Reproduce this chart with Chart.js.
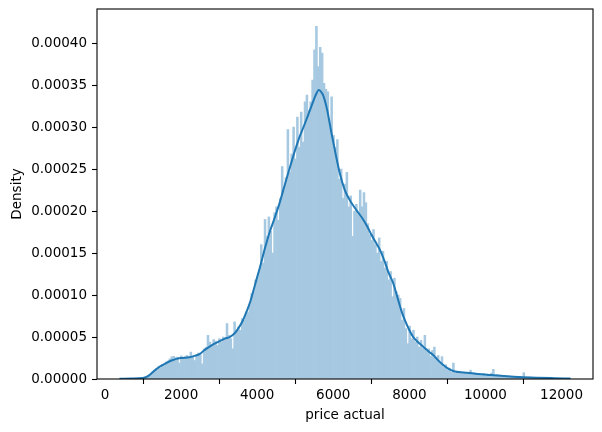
<!DOCTYPE html>
<html>
<head>
<meta charset="utf-8">
<script src="https://cdn.jsdelivr.net/npm/chart.js@4.4.1/dist/chart.umd.min.js"></script>
<style>
  html, body { margin: 0; padding: 0; background: #fff; }
  #c { display: block; }
</style>
</head>
<body>
<canvas id="c" width="602" height="432"></canvas>
<script>
// Histogram of "price actual": bins start at binStart, each binWidth wide.
const binStart = 382;
const binWidth = 50;
// Bar heights, density in units of 1e-6
const histDensity = [
  0.3, 0.4, 0.4, 0.5, 0.5, 0.6, 0.6, 0.7, 0.7, 0.8,
  1.0, 1.2, 1.5, 2.2, 2.8, 4.6, 5.8, 8.5, 9.6, 12.5,
  14.5, 13.0, 17.5, 16.0, 20.5, 21.5, 24.0, 26.5, 27.0, 25.5,
  26.0, 19.0, 27.5, 25.0, 26.5, 28.0, 24.5, 32.0, 26.0, 22.0,
  27.0, 31.0, 28.5, 18.0, 36.0, 38.0, 52.0, 44.0, 40.0, 47.0,
  45.0, 40.0, 48.0, 44.0, 50.0, 47.0, 66.0, 52.0, 48.0, 36.0,
  68.0, 56.0, 62.0, 58.0, 72.0, 70.0, 80.0, 79.0, 88.0, 102.0,
  104, 118, 120, 128, 160, 138, 190, 170, 193, 176,
  150, 198, 205, 189, 215, 253, 226, 240, 297, 246,
  268, 300, 262, 312, 276, 318, 282, 330, 338, 320,
  330, 356, 392, 420, 372, 395, 388, 352, 345, 342,
  300, 336, 290, 276, 285, 238, 250, 215, 232, 246,
  205, 218, 170, 200, 208, 196, 225, 205, 222, 210,
  185, 172, 165, 178, 160, 150, 168, 140, 152, 132,
  140, 118, 128, 98, 120, 104, 100, 96, 70, 84,
  60, 42, 63, 48, 58, 44, 50, 38, 46, 36,
  52, 33, 36, 27, 34, 38, 22, 28, 20, 26.6,
  14, 17, 11, 13, 8, 19, 7, 9.5, 8, 7,
  6.5, 8.2, 5.8, 7.5, 10.5, 6.0, 7.2, 5.5, 6.8, 5.2,
  5.0, 6.5, 4.2, 6.0, 5.4, 7.0, 11.5, 4.0, 5.2, 3.8,
  4.5, 3.0, 4.0, 2.6, 3.8, 2.5, 3.4, 2.2, 3.0, 2.0,
  2.5, 1.8, 7.5, 2.2, 1.5, 2.4, 1.4, 2.0, 1.3, 1.8,
  1.2, 1.8, 1.0, 1.5, 0.9, 1.4, 0.8, 1.2, 0.7, 1.1,
  0.8, 1.0, 0.6, 0.8, 0.5, 0.7, 0.4
];
// KDE curve, x in price units, y density in units of 1e-6
const kdeX = [382, 700, 1000, 1150, 1300, 1450, 1610, 1750, 1873, 2000,
  2224, 2350, 2487, 2600, 2750, 2880, 3013, 3150, 3276, 3408,
  3500, 3627, 3700, 3803, 3900, 3978, 4066, 4200, 4329, 4461,
  4592, 4680, 4800, 4899, 5000, 5118, 5200, 5294, 5426, 5557,
  5618, 5680, 5732, 5837, 5900, 5952, 6057, 6171, 6303, 6434,
  6610, 6785, 6900, 7000, 7100, 7224, 7350, 7450, 7575, 7700,
  7800, 7882, 8000, 8100, 8200, 8363, 8500, 8627, 8750, 8890,
  9000, 9153, 9300, 9505, 9800, 10118, 10400, 10732, 11000, 11347,
  11800, 12232];
const kdeY = [0.3, 0.6, 1.2, 4, 10, 15, 19, 22, 24, 25,
  26, 27.5, 29.5, 34, 38.5, 42, 45, 48, 50, 54.5,
  60, 70, 78, 90, 105, 118, 132, 155, 175, 192,
  210, 224, 243, 258, 273, 289, 298, 309, 325, 340,
  344, 342, 338, 321, 306, 293, 269, 245, 225, 213,
  201, 190, 181, 172, 164, 154, 140, 127, 114, 95,
  80, 70, 58, 50, 45, 38.5, 33, 28.6, 22.5, 16.7,
  13, 9.5, 8.3, 7.5, 6, 4.8, 3.8, 2.8, 2.2, 1.6,
  1, 0.5];
const xTickValues = [0, 2000, 4000, 6000, 8000, 10000, 12000];
const yTickValues = [0, 0.00005, 0.0001, 0.00015, 0.0002, 0.00025, 0.0003, 0.00035, 0.0004];
const xLabel = 'price actual';
const yLabel = 'Density';

const UNIT = 1e-6;
const histData = histDensity.map((d, i) => ({ x: binStart + binWidth * (i + 0.5), y: d * UNIT }));
const kdeData = kdeX.map((x, i) => ({ x: x, y: kdeY[i] * UNIT }));

Chart.defaults.font.family = 'DejaVu Sans';
Chart.defaults.font.size = 13.5;
Chart.defaults.color = '#000';

const frame = {
  id: 'frame',
  afterDatasetsDraw(chart) {
    const a = chart.chartArea, ctx = chart.ctx;
    ctx.save();
    ctx.strokeStyle = '#000';
    ctx.lineWidth = 1.1;
    ctx.strokeRect(a.left, a.top, a.right - a.left, a.bottom - a.top);
    ctx.restore();
  }
};

new Chart(document.getElementById('c'), {
  type: 'bar',
  data: {
    datasets: [
      {
        type: 'line',
        data: kdeData,
        borderColor: '#1f77b4',
        borderWidth: 2,
        pointRadius: 0,
        fill: false,
        cubicInterpolationMode: 'monotone',
        order: 0
      },
      {
        type: 'bar',
        data: histData,
        backgroundColor: 'rgb(166,201,225)',
        borderWidth: 0,
        barPercentage: 1.0,
        categoryPercentage: 1.0,
        order: 1
      }
    ]
  },
  options: {
    responsive: false,
    animation: false,
    devicePixelRatio: 1,
    layout: { padding: { left: 0, right: 9, top: 9, bottom: 0 } },
    plugins: { legend: { display: false }, tooltip: { enabled: false } },
    scales: {
      x: {
        type: 'linear',
        offset: false,
        min: -210,
        max: 12826,
        border: { display: false },
        grid: { display: true, drawOnChartArea: false, drawTicks: true, tickLength: 5, tickColor: '#000', tickWidth: 1.1 },
        ticks: { padding: 3, maxRotation: 0, callback: v => String(v) },
        afterBuildTicks: s => { s.ticks = xTickValues.map(v => ({ value: v })); },
        afterFit: s => { s.height = 53; s.paddingLeft = 0; s.paddingRight = 0; },
        title: { display: true, text: xLabel, padding: { top: 0, bottom: 8 } }
      },
      y: {
        type: 'linear',
        min: 0,
        max: 0.0004406,
        border: { display: false },
        grid: { display: true, drawOnChartArea: false, drawTicks: true, tickLength: 5, tickColor: '#000', tickWidth: 1.1 },
        ticks: { padding: 5, callback: v => Number(v).toFixed(5) },
        afterBuildTicks: s => { s.ticks = yTickValues.map(v => ({ value: v })); },
        afterFit: s => { s.width = 97; s.paddingTop = 0; s.paddingBottom = 0; },
        title: { display: true, text: yLabel, padding: { top: 9, bottom: 0 } }
      }
    }
  },
  plugins: [frame]
});
</script>
</body>
</html>
